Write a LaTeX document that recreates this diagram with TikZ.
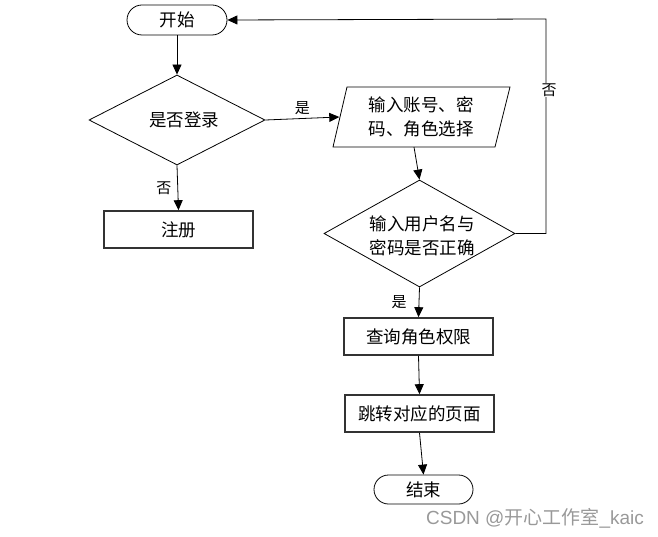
\documentclass[tikz,border=0pt]{standalone}
\usepackage{fontspec}
\setmainfont{Noto Sans CJK SC}
\newfontfamily\latinfont{Liberation Sans}
\usetikzlibrary{shapes.geometric,shapes.misc,arrows.meta,positioning}
\begin{document}
\begin{tikzpicture}[x=1pt,y=-1pt,
  every node/.style={font=\fontsize{17.5}{20}\selectfont, inner sep=0pt},
  term/.style={draw, line width=0.8pt, rounded rectangle, minimum width=100pt, minimum height=30pt},
  decbox/.style={draw, line width=0.8pt, shape=diamond, inner sep=0pt},
  procbox/.style={draw=black!80, line width=1.6pt, minimum width=149pt, minimum height=37pt},
  lbl/.style={font=\fontsize{15}{17}\selectfont},
  arr/.style={-{Triangle[length=10pt,width=9pt]}, line width=0.8pt}
]
\useasboundingbox (0,0) rectangle (658,537);
\node[term] (start) at (177,20) {开始};
\node[decbox, minimum width=176pt, minimum height=90pt] (d1) at (177,120) {};
\node at (184,120) {是否登录};
\node[procbox] (reg) at (178.5,229.5) {注册};
\node[minimum width=163pt, minimum height=60pt, align=center, font=\fontsize{17.5}{24}\selectfont] (io) at (421,117) {输入账号、密\\码、角色选择};
\draw[line width=0.8pt] (347,87) -- (510,87) -- (495,147) -- (333,147) -- cycle;
\node[decbox, minimum width=191pt, minimum height=107pt] (d2) at (419.5,233.5) {};
\node[align=center, font=\fontsize{17.5}{24}\selectfont] at (422,236) {输入用户名与\\密码是否正确};
\node[procbox] (q) at (418.5,336.5) {查询角色权限};
\node[procbox] (jump) at (419.5,413.5) {跳转对应的页面};
\node[term, minimum width=99pt, minimum height=29pt] (end) at (423.5,489.5) {结束};
\coordinate (c1) at (546,233.5);
\coordinate (c2) at (546,19);
\coordinate (iob) at (414,147);
\draw[arr] (start.south) -- (d1.north);
\draw[arr] (d1.east) -- (io.west) node[lbl, midway, above=3pt] {是};
\draw[arr] (d1.south) -- (reg.north) node[lbl, midway, left=6pt] {否};
\draw[arr] (iob) -- (d2.north);
\draw[arr] (d2.south) -- (q.north) node[lbl, midway, left=12pt] {是};
\draw[arr] (q.south) -- (jump.north);
\draw[arr] (jump.south) -- (end.north);
\draw[arr] (d2.east) -- (c1) -- (c2) -- (start.east);
\node[lbl, fill=white, inner sep=0.5pt] at (549,90) {否};
\node[text=black!40, font=\fontsize{19}{21}\selectfont] at (535,518) {{\latinfont CSDN @}开心工作室{\latinfont \_kaic}};
\end{tikzpicture}
\end{document}
